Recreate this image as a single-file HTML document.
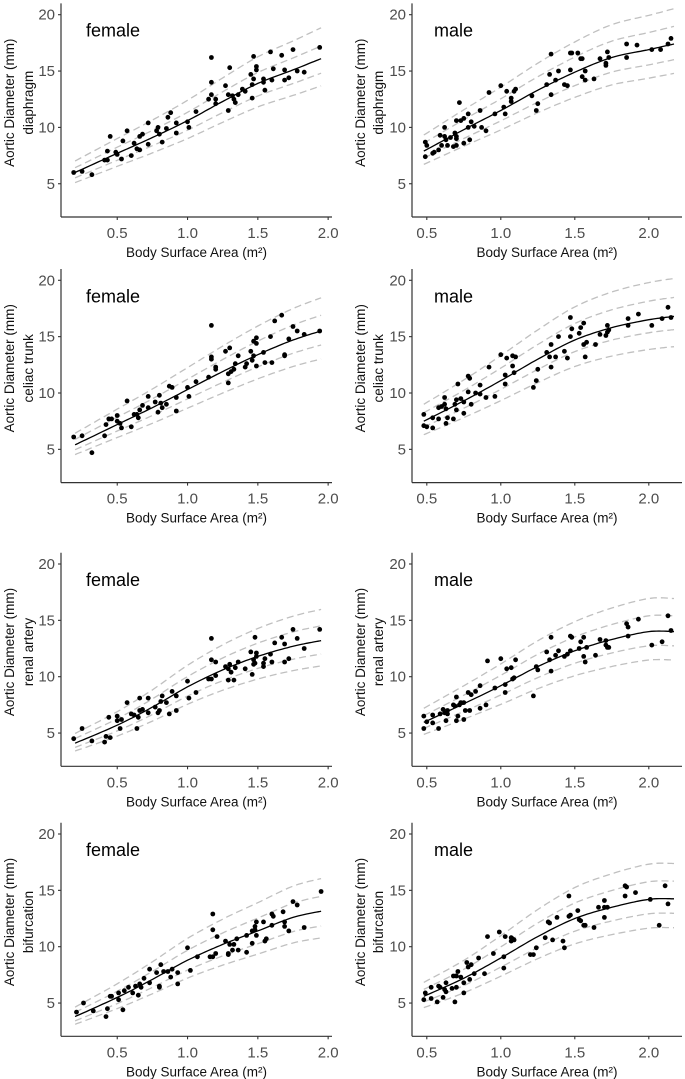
<!DOCTYPE html>
<html><head><meta charset="utf-8"><style>
html,body{margin:0;padding:0;background:#fff;}
svg{display:block;font-family:"Liberation Sans",Arial,sans-serif;}
</style></head><body>
<svg id="chart" width="685" height="1079" viewBox="0 0 685 1079" xmlns="http://www.w3.org/2000/svg"></svg>
<script>
// ---------- data ----------
const sites = ["diaphragm", "celiac trunk", "renal artery", "bifurcation"];
const sexes = ["female", "male"];
const xTicks = ["0.5", "1.0", "1.5", "2.0"];
const yTicks = ["5", "10", "15", "20"];

const fGrid = [0.2, 0.5, 0.75, 1.0, 1.25, 1.5, 1.75, 1.95];
const mGrid = [0.48, 0.75, 1.0, 1.25, 1.5, 1.75, 2.0, 2.17];

const fDiaCurve = [6.0, 7.7, 9.1, 10.6, 12.3, 13.9, 15.1, 16.1];
const fCelCurve = [5.4, 7.2, 8.7, 10.3, 11.9, 13.4, 14.7, 15.5];
const fRenCurve = [4.1, 5.7, 7.3, 9.1, 10.6, 11.8, 12.7, 13.2];
const fBifCurve = [3.8, 5.5, 7.1, 8.8, 10.2, 11.4, 12.6, 13.15];
const mDiaCurve = [7.9, 9.8, 11.5, 13.3, 14.9, 16.2, 16.9, 17.4];
const mCelCurve = [7.5, 9.3, 11.1, 13.0, 14.7, 15.8, 16.5, 16.8];
const mRenCurve = [5.95, 7.6, 9.2, 10.9, 12.3, 13.3, 14.0, 14.0];
const mBifCurve = [5.6, 7.2, 9.0, 10.9, 12.5, 13.5, 14.2, 14.25];

// centile band factors: [upper outer, upper inner, lower inner, lower outer]
const fDiaBand = [1.17, 1.07, 0.92, 0.85];
const fCelBand = [1.19, 1.09, 0.92, 0.84];
const fRenBand = [1.21, 1.10, 0.91, 0.83];
const fBifBand = [1.22, 1.10, 0.90, 0.82];
const mDiaBand = [1.18, 1.09, 0.92, 0.85];
const mCelBand = [1.20, 1.10, 0.93, 0.84];
const mRenBand = [1.21, 1.10, 0.91, 0.82];
const mBifBand = [1.22, 1.11, 0.91, 0.82];

const fDiaX = [0.19,0.25,0.32,0.41,0.43,0.43,0.45,0.49,0.50,0.53,0.54,0.57,0.60,0.62,0.64,0.66,0.66,0.68,0.72,0.72,0.78,0.79,0.80,0.82,0.85,0.86,0.88,0.92,0.92,1.00,1.01,1.06,1.15,1.17,1.17,1.17,1.20,1.20,1.27,1.29,1.30,1.29,1.32,1.33,1.34,1.36,1.39,1.41,1.45,1.46,1.46,1.47,1.47,1.49,1.49,1.54,1.54,1.55,1.59,1.60,1.61,1.67,1.69,1.69,1.72,1.75,1.78,1.83,1.94];
const fDiaY = [6.0,6.1,5.8,7.1,7.1,7.9,9.2,7.8,7.6,7.2,8.8,9.7,7.5,8.6,8.1,8.0,9.2,9.4,8.5,10.4,9.7,10.0,9.4,8.7,9.9,10.9,11.3,9.5,10.4,10.5,10.0,11.4,12.5,16.2,14.0,12.9,12.5,12.1,13.7,12.9,15.3,11.5,12.8,12.5,12.2,12.9,13.4,13.2,14.7,12.6,13.8,16.3,14.3,15.4,15.1,14.0,14.3,13.3,16.7,14.2,15.2,16.4,15.1,14.2,14.4,16.9,15.0,14.9,17.1];

const fCelX = [0.19,0.25,0.32,0.41,0.42,0.44,0.46,0.50,0.50,0.52,0.53,0.57,0.60,0.62,0.64,0.65,0.66,0.68,0.72,0.72,0.77,0.79,0.80,0.81,0.82,0.85,0.87,0.89,0.92,0.92,1.00,1.01,1.06,1.15,1.17,1.17,1.17,1.20,1.20,1.27,1.29,1.30,1.29,1.31,1.33,1.34,1.36,1.41,1.42,1.45,1.46,1.47,1.47,1.49,1.49,1.49,1.54,1.55,1.59,1.60,1.62,1.67,1.69,1.69,1.72,1.75,1.78,1.83,1.94];
const fCelY = [6.1,6.2,4.7,6.2,7.2,7.7,7.7,8.0,7.5,7.3,6.9,9.3,7.0,8.1,8.1,7.8,8.5,8.9,8.7,9.7,9.2,8.3,9.8,9.1,8.7,9.0,10.6,10.5,9.6,8.4,10.5,9.7,11.0,11.4,16.0,13.2,13.0,12.3,12.1,13.7,11.7,14.0,10.9,11.9,12.1,12.6,13.3,12.3,12.6,13.7,12.9,14.6,13.3,14.4,14.9,12.4,13.6,12.7,15.0,12.7,16.4,16.9,13.4,13.3,14.8,15.9,15.5,15.2,15.5];

const fRenX = [0.19,0.25,0.32,0.41,0.42,0.44,0.45,0.50,0.50,0.53,0.52,0.57,0.60,0.62,0.64,0.65,0.66,0.66,0.68,0.72,0.72,0.77,0.79,0.80,0.81,0.82,0.85,0.87,0.89,0.92,0.92,1.00,1.01,1.06,1.15,1.17,1.17,1.17,1.20,1.20,1.27,1.29,1.30,1.29,1.31,1.33,1.34,1.36,1.41,1.45,1.46,1.47,1.47,1.48,1.49,1.49,1.48,1.54,1.54,1.55,1.59,1.60,1.62,1.67,1.69,1.69,1.72,1.75,1.78,1.83,1.94];
const fRenY = [4.5,5.4,4.3,4.2,4.7,6.4,4.6,6.5,6.1,6.2,5.4,7.7,6.7,6.6,5.4,6.4,8.1,7.0,7.1,6.8,8.1,7.3,6.8,7.0,7.8,8.3,7.7,6.7,8.7,8.3,7.0,9.6,8.1,8.6,9.8,13.4,11.5,9.8,11.3,10.1,10.9,10.7,11.1,9.7,10.4,9.7,10.8,11.3,10.7,12.2,10.2,11.1,11.5,13.5,12.1,11.8,11.2,11.2,10.9,11.6,12.0,11.3,13.0,13.5,12.9,11.3,11.6,14.2,13.4,12.5,14.2];

const fBifX = [0.21,0.26,0.33,0.42,0.43,0.45,0.46,0.51,0.51,0.54,0.55,0.58,0.61,0.63,0.65,0.66,0.67,0.69,0.73,0.73,0.78,0.80,0.80,0.81,0.83,0.86,0.88,0.89,0.93,0.93,1.00,1.02,1.07,1.16,1.18,1.18,1.18,1.21,1.20,1.27,1.29,1.30,1.29,1.32,1.33,1.35,1.36,1.42,1.42,1.46,1.46,1.48,1.49,1.49,1.48,1.55,1.56,1.54,1.60,1.61,1.60,1.68,1.69,1.69,1.72,1.75,1.78,1.83,1.95];
const fBifY = [4.2,5.0,4.3,3.8,4.5,5.6,5.6,5.9,5.3,4.4,6.1,6.4,5.9,6.5,5.7,6.7,6.4,7.2,6.8,8.0,7.7,6.5,6.4,8.4,7.8,7.8,7.3,8.0,7.7,6.7,9.9,7.9,9.1,9.1,12.9,11.5,9.1,10.9,9.4,10.5,9.4,10.2,9.3,9.7,10.2,10.7,9.7,9.5,11.0,10.3,11.4,11.8,12.2,11.0,11.5,10.5,10.7,12.2,12.9,12.7,11.9,13.1,12.2,11.8,11.4,14.0,13.7,11.7,14.9];

const mDiaX = [0.49,0.49,0.50,0.54,0.55,0.58,0.59,0.60,0.62,0.62,0.63,0.64,0.66,0.68,0.69,0.70,0.70,0.70,0.70,0.72,0.73,0.75,0.75,0.78,0.78,0.79,0.80,0.82,0.86,0.87,0.90,0.92,0.96,1.00,1.02,1.03,1.04,1.07,1.07,1.09,1.10,1.21,1.24,1.25,1.31,1.33,1.34,1.34,1.37,1.39,1.43,1.45,1.47,1.47,1.48,1.52,1.54,1.55,1.55,1.57,1.57,1.63,1.67,1.71,1.71,1.72,1.73,1.85,1.85,1.92,2.02,2.08,2.13,2.15];
const mDiaY = [7.4,8.7,8.4,7.7,7.8,8.0,9.3,8.4,10.0,9.2,8.9,8.4,9.1,8.3,9.5,8.4,9.2,9.0,10.6,12.2,10.6,10.8,8.6,11.2,10.0,8.9,10.5,10.1,11.5,10.0,9.7,13.1,11.2,13.7,11.8,11.2,13.2,12.6,12.3,13.2,13.4,12.8,11.5,12.1,13.8,14.7,12.9,16.5,14.2,15.0,13.8,13.7,15.1,16.6,16.6,16.6,16.1,16.1,14.5,14.2,15.0,14.3,16.1,15.7,15.5,16.7,16.2,16.2,17.4,17.3,16.9,16.9,17.4,17.9];

const mCelX = [0.48,0.48,0.50,0.54,0.54,0.58,0.58,0.60,0.62,0.62,0.63,0.63,0.64,0.68,0.69,0.70,0.70,0.71,0.73,0.75,0.75,0.78,0.79,0.78,0.80,0.83,0.86,0.86,0.90,0.92,0.96,1.00,1.03,1.03,1.04,1.08,1.08,1.09,1.10,1.22,1.24,1.25,1.31,1.33,1.34,1.34,1.37,1.39,1.43,1.45,1.47,1.47,1.48,1.53,1.54,1.56,1.56,1.57,1.58,1.64,1.67,1.71,1.72,1.72,1.73,1.86,1.86,1.93,2.02,2.09,2.13,2.15];
const mCelY = [8.1,7.1,7.0,6.9,7.8,7.7,8.7,8.8,9.6,9.0,8.6,7.3,7.8,7.7,9.0,8.5,9.4,10.8,9.5,9.2,8.2,11.5,11.3,10.1,9.0,10.0,10.7,9.9,9.6,12.3,9.7,13.4,11.6,10.8,13.1,13.3,12.4,11.8,13.2,10.5,11.1,12.1,13.6,13.2,12.3,14.3,13.2,15.0,13.7,13.1,16.7,15.0,15.7,15.3,15.8,16.2,14.3,13.2,14.5,14.3,15.2,15.1,15.4,16.0,15.6,16.6,16.0,17.0,16.0,16.6,17.6,16.7];

const mRenX = [0.48,0.48,0.50,0.54,0.54,0.58,0.59,0.61,0.62,0.63,0.64,0.64,0.68,0.69,0.70,0.70,0.71,0.72,0.73,0.75,0.75,0.76,0.78,0.79,0.80,0.83,0.86,0.86,0.90,0.91,0.96,1.00,1.03,1.03,1.04,1.07,1.08,1.09,1.10,1.22,1.24,1.25,1.31,1.33,1.34,1.34,1.37,1.39,1.43,1.45,1.47,1.47,1.48,1.53,1.54,1.56,1.56,1.57,1.58,1.64,1.67,1.71,1.71,1.72,1.73,1.85,1.86,1.86,1.93,2.02,2.09,2.13,2.15];
const mRenY = [6.5,5.4,6.0,6.6,5.9,5.4,6.7,7.1,6.8,6.1,6.7,7.0,7.5,7.4,8.2,6.1,6.5,7.5,7.7,7.7,6.2,7.0,8.6,7.0,8.4,8.7,9.2,7.2,7.5,11.4,9.0,11.6,9.3,8.6,10.7,10.8,9.8,9.9,11.5,8.3,10.9,10.6,12.2,11.5,13.5,10.5,11.9,12.3,11.8,12.0,12.3,13.6,13.5,12.5,13.1,11.8,13.5,11.3,12.6,11.9,13.3,13.2,12.8,12.6,12.6,14.7,14.4,13.6,15.1,12.8,13.1,15.4,14.1];

const mBifX = [0.48,0.49,0.53,0.53,0.57,0.58,0.59,0.61,0.62,0.63,0.63,0.67,0.68,0.69,0.70,0.70,0.71,0.73,0.75,0.75,0.77,0.78,0.79,0.80,0.82,0.85,0.89,0.91,0.95,0.99,1.02,1.02,1.03,1.07,1.07,1.08,1.09,1.20,1.22,1.24,1.30,1.32,1.33,1.35,1.38,1.42,1.43,1.46,1.46,1.47,1.52,1.53,1.54,1.56,1.57,1.63,1.66,1.70,1.70,1.70,1.72,1.84,1.84,1.85,1.91,2.01,2.07,2.11,2.13];
const mBifY = [5.3,5.9,6.4,5.4,5.1,6.5,6.4,5.5,6.2,6.0,6.8,6.3,7.4,5.1,6.4,7.4,7.8,7.3,5.9,6.8,8.6,8.2,7.1,8.4,7.6,9.0,7.6,10.9,9.4,11.3,9.1,8.1,10.9,10.5,10.8,10.7,10.6,9.3,9.3,9.9,10.8,12.2,12.1,10.6,12.6,10.5,9.9,14.5,12.7,12.8,13.2,12.4,12.3,11.9,11.9,11.7,13.5,14.1,12.6,13.5,13.5,14.5,15.4,15.3,14.8,14.2,11.9,15.4,13.8];

// ---------- geometry ----------
const NS = "http://www.w3.org/2000/svg";
const svg = document.getElementById("chart");
const rowY20 = [14.7, 280.3, 564, 834];
const colGeom = [
  {x0: 61, x1: 332, d0: 0.1, k: 140.6, title1: 9, title2: 28, lab: 86, grid: fGrid},
  {x0: 412, x1: 682, d0: 0.4, k: 148, title1: 360, title2: 378, lab: 434, grid: mGrid}
];
const panels = [
  [fDiaX, fDiaY, fDiaCurve, fDiaBand, mDiaX, mDiaY, mDiaCurve, mDiaBand],
  [fCelX, fCelY, fCelCurve, fCelBand, mCelX, mCelY, mCelCurve, mCelBand],
  [fRenX, fRenY, fRenCurve, fRenBand, mRenX, mRenY, mRenCurve, mRenBand],
  [fBifX, fBifY, fBifCurve, fBifBand, mBifX, mBifY, mBifCurve, mBifBand]
];
const YK = 11.27;

function mk(tag, attrs, parent) {
  const e = document.createElementNS(NS, tag);
  for (const a in attrs) e.setAttribute(a, attrs[a]);
  (parent || svg).appendChild(e);
  return e;
}
function spline(xs, ys, n) {
  const out = [];
  for (let i = 0; i < xs.length - 1; i++) {
    const x0 = xs[Math.max(i - 1, 0)], y0 = ys[Math.max(i - 1, 0)];
    const x1 = xs[i], y1 = ys[i], x2 = xs[i + 1], y2 = ys[i + 1];
    const x3 = xs[Math.min(i + 2, xs.length - 1)], y3 = ys[Math.min(i + 2, xs.length - 1)];
    for (let s = 0; s < n; s++) {
      const t = s / n, t2 = t * t, t3 = t2 * t;
      const f = (p0, p1, p2, p3) => 0.5 * ((2 * p1) + (-p0 + p2) * t + (2 * p0 - 5 * p1 + 4 * p2 - p3) * t2 + (-p0 + 3 * p1 - 3 * p2 + p3) * t3);
      out.push([f(x0, x1, x2, x3), f(y0, y1, y2, y3)]);
    }
  }
  out.push([xs[xs.length - 1], ys[ys.length - 1]]);
  return out;
}

for (let r = 0; r < 4; r++) {
  for (let c = 0; c < 2; c++) {
    const g = colGeom[c];
    const y20 = rowY20[r];
    const sx = v => g.x0 + (v - g.d0) * g.k;
    const sy = v => y20 + (20 - v) * YK;
    const bottom = sy(2.05), top = sy(21);
    const P = panels[r];
    const px = P[c * 4], py = P[c * 4 + 1], curve = P[c * 4 + 2], band = P[c * 4 + 3];
    const grp = mk("g", {});
    
    

    const ya = mk("line", {x1: g.x0, y1: top, x2: g.x0, y2: bottom, stroke: "#333", "stroke-width": 1.2}, grp);
    
    
    const xa = mk("line", {x1: g.x0, y1: bottom, x2: g.x1, y2: bottom, stroke: "#333", "stroke-width": 1.2}, grp);
    
    

    yTicks.forEach(t => {
      const yy = sy(parseFloat(t));
      const tk = mk("line", {x1: g.x0 - 3, y1: yy, x2: g.x0, y2: yy, stroke: "#333", "stroke-width": 1.1}, grp);
      
      
      const tl = mk("text", {x: g.x0 - 6, y: yy + 5, "text-anchor": "end", "font-size": 15, fill: "#4d4d4d"}, grp);
      tl.textContent = t;
      
      
    });
    xTicks.forEach(t => {
      const xx = sx(parseFloat(t));
      const tk = mk("line", {x1: xx, y1: bottom, x2: xx, y2: bottom + 3, stroke: "#333", "stroke-width": 1.1}, grp);
      
      
      const tl = mk("text", {x: xx, y: bottom + 21, "text-anchor": "middle", "font-size": 15, fill: "#4d4d4d"}, grp);
      tl.textContent = t;
      
      
    });

    const xt = mk("text", {x: (g.x0 + g.x1) / 2, y: bottom + 40, "text-anchor": "middle", "font-size": 13.5, fill: "#111"}, grp);
    xt.textContent = "Body Surface Area (m²)";
    
    

    const cy = y20 + 88;
    const yt1 = mk("text", {x: 0, y: 0, "text-anchor": "middle", "font-size": 13.5, fill: "#111", transform: "translate(" + (g.title1 + 5) + "," + cy + ") rotate(-90)"}, grp);
    yt1.textContent = "Aortic Diameter (mm)";
    
    
    const yt2 = mk("text", {x: 0, y: 0, "text-anchor": "middle", "font-size": 13.5, fill: "#111", transform: "translate(" + (g.title2 + 5) + "," + cy + ") rotate(-90)"}, grp);
    yt2.textContent = sites[r];
    
    

    const lab = mk("text", {x: g.lab, y: y20 + 22, "font-size": 18, fill: "#000"}, grp);
    lab.textContent = sexes[c];
    
    

    const sp = spline(g.grid, curve, 12);
    band.forEach((f, bi) => {
      const d = sp.map((p, i) => (i ? "L" : "M") + sx(p[0]).toFixed(1) + "," + sy(p[1] * f).toFixed(1)).join("");
      const bl = mk("path", {d: d, fill: "none", stroke: "#c0c0c0", "stroke-width": 1.3, "stroke-dasharray": "7,4"}, grp);
      
      
    });
    const d = sp.map((p, i) => (i ? "L" : "M") + sx(p[0]).toFixed(1) + "," + sy(p[1]).toFixed(1)).join("");
    const ml = mk("path", {d: d, fill: "none", stroke: "#000", "stroke-width": 1.3}, grp);
    
    

    for (let i = 0; i < px.length; i++) {
      const pt = mk("circle", {cx: sx(px[i]).toFixed(1), cy: sy(py[i]).toFixed(1), r: 2.4, fill: "#000"}, grp);
      
      
    }
  }
}
</script>
</body></html>
